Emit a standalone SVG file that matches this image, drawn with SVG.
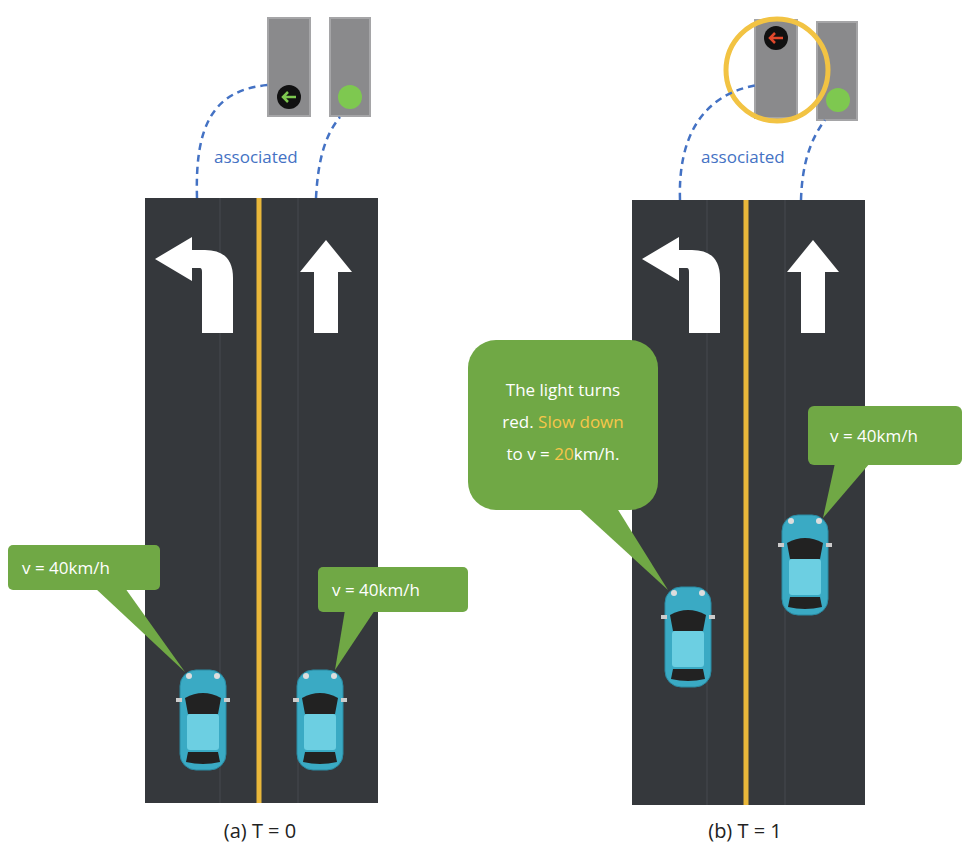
<svg xmlns="http://www.w3.org/2000/svg" width="968" height="867" viewBox="0 0 968 867">
<style>
.road{fill:#35383c}.lane{stroke:#3d4045;stroke-width:2}.yl{stroke:#e9b73a;stroke-width:5}
.arr{fill:#fff}.tl{fill:#8a8a8c;stroke:#a5a5a7;stroke-width:2}
.dash{fill:none;stroke:#4472c4;stroke-width:2.5;stroke-dasharray:7 5}
.lbl{font-family:"Open Sans","Liberation Sans",sans-serif;font-size:17px;fill:#4472c4}
.call{fill:#70a845}.ct{font-family:"Open Sans","Liberation Sans",sans-serif;font-size:17px;font-weight:500;fill:#fff}
.cap{font-family:"Open Sans","Liberation Sans",sans-serif;font-size:20px;fill:#222;text-anchor:middle}
.body{fill:#3aaac4;stroke:#2a8aa2;stroke-width:1}.glass{fill:#222}.roof{fill:#6ccfe2}
</style>
<defs>
<g id="car">
<rect class="body" x="-23" y="-50" width="46" height="100" rx="16"/>
<rect x="-27" y="-22" width="6" height="4" fill="#ccc"/><rect x="21" y="-22" width="6" height="4" fill="#ccc"/>
<path class="glass" d="M-18,-22 Q0,-32 18,-22 L15,-6 L-15,-6 Z"/>
<rect class="roof" x="-16" y="-6" width="32" height="36" rx="3"/>
<path class="glass" d="M-15,32 L15,32 L17,42 Q0,46 -17,42 Z"/>
<circle cx="-14" cy="-44" r="3" fill="#ddd"/><circle cx="14" cy="-44" r="3" fill="#ddd"/>
</g>
<path id="left" class="arr" d="M233,333 V278 Q233,250 205,250 H192 V237 L155,259 L192,281 V268 H200 Q202,268 202,272 V333 Z"/>
<path id="up" class="arr" d="M314,333 V272 H300 L326,240 L352,272 H338 V333 Z"/>
</defs>

<g id="road-a">
<rect class="road" x="145" y="198" width="233" height="605"/>
<line class="lane" x1="220" y1="198" x2="220" y2="803"/><line class="lane" x1="298" y1="198" x2="298" y2="803"/>
<line class="yl" x1="259" y1="198" x2="259" y2="803"/>
<use href="#left"/>
<use href="#up"/>
</g>
<g id="road-b">
<rect class="road" x="632" y="200" width="233" height="605"/>
<line class="lane" x1="707" y1="200" x2="707" y2="805"/><line class="lane" x1="785" y1="200" x2="785" y2="805"/>
<line class="yl" x1="746" y1="200" x2="746" y2="805"/>
<use href="#left" transform="translate(487,0)"/>
<use href="#up" transform="translate(487,0)"/>
</g>

<g id="lights-a">
<rect class="tl" x="268" y="18" width="42" height="98"/>
<circle cx="289" cy="97" r="12" fill="#111"/>
<path d="M296,97 H283 M288,92 L283,97 L288,102" stroke="#7ec850" stroke-width="2.5" fill="none"/>
<rect class="tl" x="330" y="18" width="40" height="98"/>
<circle cx="350" cy="97" r="12" fill="#7ec850"/>
</g>
<g id="lights-b">
<rect class="tl" x="755" y="20" width="42" height="98"/>
<circle cx="776" cy="38" r="12" fill="#111"/>
<path d="M783,38 H770 M775,33 L770,38 L775,43" stroke="#e0482c" stroke-width="2.5" fill="none"/>
<rect class="tl" x="817" y="22" width="40" height="98"/>
<circle cx="838" cy="100" r="12" fill="#7ec850"/>
<circle cx="777" cy="70" r="51" fill="none" stroke="#f2c343" stroke-width="5"/>
</g>

<g id="connectors">
<path class="dash" d="M197,198 C195,130 210,90 268,85"/>
<path class="dash" d="M316,198 C318,160 325,135 340,117"/>
<path class="dash" d="M680,200 C678,140 700,95 757,85"/>
<path class="dash" d="M801,200 C802,165 810,140 825,120"/>
</g>
<text class="lbl" x="214" y="163">associated</text>
<text class="lbl" x="701" y="163">associated</text>

<g id="cars">
<use href="#car" transform="translate(203,720)"/>
<use href="#car" transform="translate(320,720)"/>
<use href="#car" transform="translate(688,637)"/>
<use href="#car" transform="translate(805,565)"/>
</g>

<g id="callout-a1"><rect class="call" x="8" y="545" width="152" height="45" rx="5"/><path class="call" d="M95,588 L185,672 L125,588 Z"/><text class="ct" x="22" y="574">v = 40km/h</text></g>
<g id="callout-a2"><rect class="call" x="318" y="567" width="150" height="45" rx="5"/><path class="call" d="M345,610 L335,670 L375,610 Z"/><text class="ct" x="332" y="596">v = 40km/h</text></g>
<g id="callout-b1"><rect class="call" x="468" y="340" width="190" height="170" rx="28"/><path class="call" d="M575,505 L668,590 L615,505 Z"/>
<text class="ct" text-anchor="middle" x="563" y="396">The light turns</text>
<text class="ct" text-anchor="middle" x="563" y="428">red. <tspan fill="#f7c64a">Slow down</tspan></text>
<text class="ct" text-anchor="middle" x="563" y="460">to v = <tspan fill="#f7c64a">20</tspan>km/h.</text></g>
<g id="callout-b2"><rect class="call" x="808" y="406" width="154" height="59" rx="6"/><path class="call" d="M835,463 L823,518 L870,463 Z"/><text class="ct" x="830" y="442">v = 40km/h</text></g>

<text class="cap" x="260" y="838">(a) T = 0</text>
<text class="cap" x="745" y="838">(b) T = 1</text>
</svg>
